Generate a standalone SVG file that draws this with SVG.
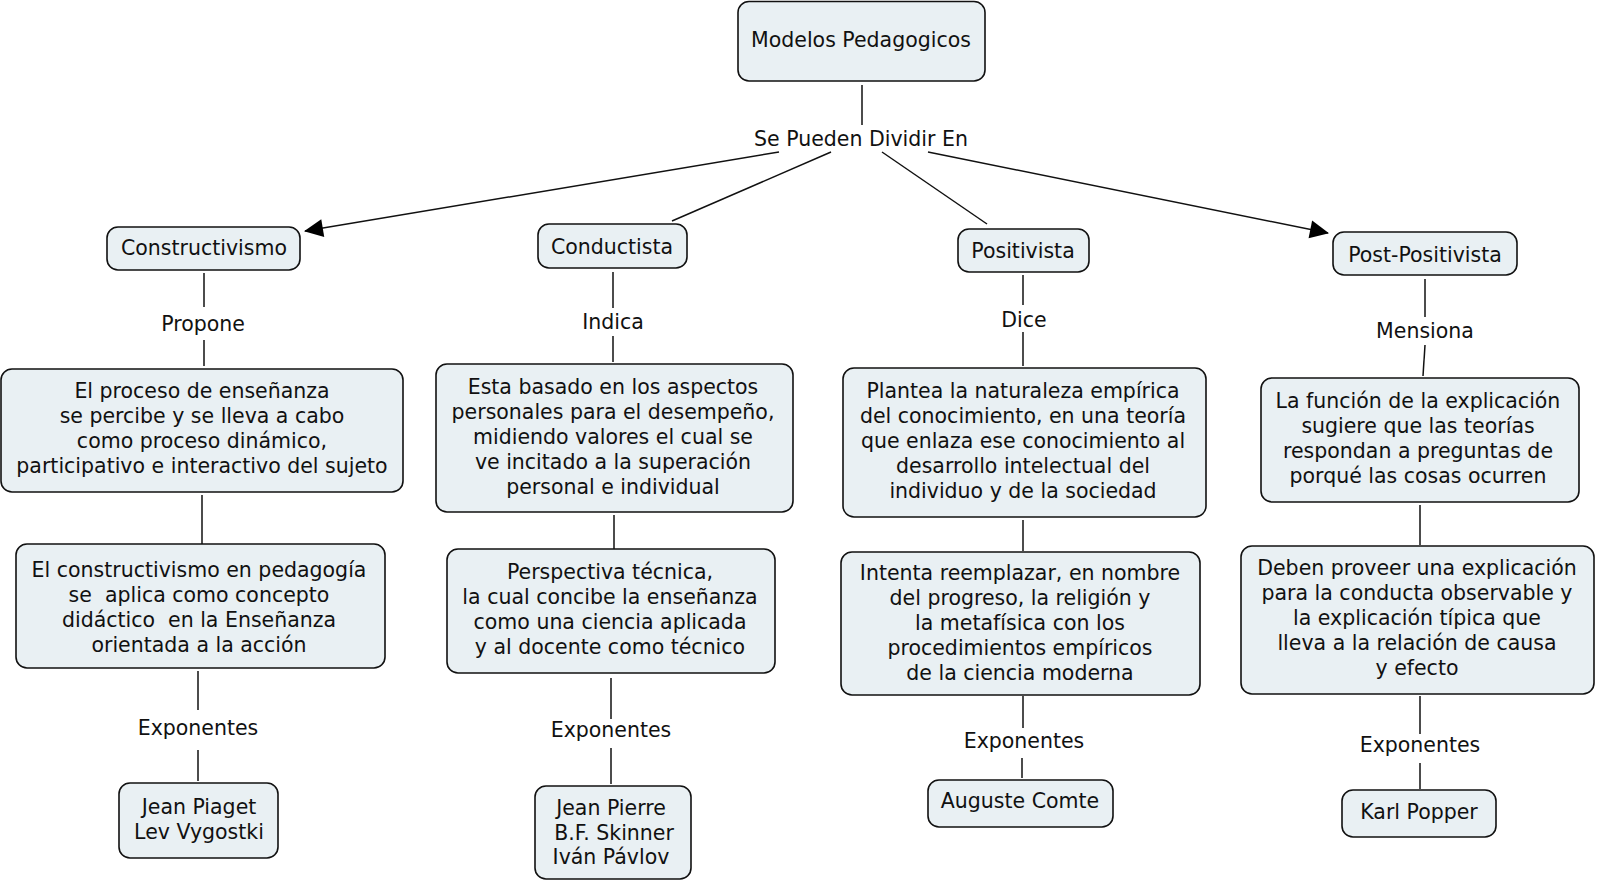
<svg xmlns="http://www.w3.org/2000/svg" width="1600" height="884" viewBox="0 0 1600 884">
<style>
.box{fill:#e9f0f3;stroke:#111;stroke-width:1.6}
.t{font-family:"DejaVu Sans","Liberation Sans",sans-serif;font-size:20.5px;fill:#111;text-anchor:middle}
.c{stroke:#111;stroke-width:1.5;fill:none}
.pre{white-space:pre}
</style>
<defs>
<marker id="arr" markerUnits="userSpaceOnUse" markerWidth="24" markerHeight="24" refX="18" refY="0" viewBox="-2 -12 24 24" orient="auto">
<path d="M0,-9 L19,0 L0,9 Z" fill="#000"/>
</marker>
</defs>
<rect width="1600" height="884" fill="#fff"/>
<g id="connectors">
<line class="c" x1="862" y1="85" x2="862" y2="125"/>
<line class="c" x1="779" y1="152" x2="305" y2="231" marker-end="url(#arr)"/>
<line class="c" x1="831" y1="152" x2="672" y2="221"/>
<line class="c" x1="882" y1="152" x2="987" y2="224"/>
<line class="c" x1="928" y1="152" x2="1328" y2="233" marker-end="url(#arr)"/>
<line class="c" x1="204" y1="273" x2="204" y2="307"/>
<line class="c" x1="204" y1="340" x2="204" y2="366"/>
<line class="c" x1="202" y1="495" x2="202" y2="544"/>
<line class="c" x1="198" y1="671" x2="198" y2="710"/>
<line class="c" x1="198" y1="750" x2="198" y2="781"/>
<line class="c" x1="613" y1="272" x2="613" y2="308"/>
<line class="c" x1="613" y1="336" x2="613" y2="362"/>
<line class="c" x1="614" y1="515" x2="614" y2="549"/>
<line class="c" x1="611" y1="678" x2="611" y2="719"/>
<line class="c" x1="611" y1="748" x2="611" y2="784"/>
<line class="c" x1="1023" y1="275" x2="1023" y2="305"/>
<line class="c" x1="1023" y1="332" x2="1023" y2="366"/>
<line class="c" x1="1023" y1="520" x2="1023" y2="551"/>
<line class="c" x1="1023" y1="696" x2="1023" y2="728"/>
<line class="c" x1="1022" y1="758" x2="1022" y2="778"/>
<line class="c" x1="1425" y1="279" x2="1425" y2="317"/>
<line class="c" x1="1425" y1="345" x2="1423" y2="376"/>
<line class="c" x1="1420" y1="505" x2="1420" y2="545"/>
<line class="c" x1="1420" y1="696" x2="1420" y2="734"/>
<line class="c" x1="1420" y1="763" x2="1420" y2="789"/>
<text class="t" x="861" y="146">Se Pueden Dividir En</text>
<text class="t" x="203" y="331">Propone</text>
<text class="t" x="613" y="329">Indica</text>
<text class="t" x="1024" y="327">Dice</text>
<text class="t" x="1425" y="338">Mensiona</text>
<text class="t" x="198" y="735">Exponentes</text>
<text class="t" x="611" y="737">Exponentes</text>
<text class="t" x="1024" y="748">Exponentes</text>
<text class="t" x="1420" y="752">Exponentes</text>
</g>
<g id="n-modelos">
<rect class="box" x="738" y="1.5" width="247" height="79.5" rx="11"/>
<text class="t" x="861" y="47">Modelos Pedagogicos</text>
</g>
<g id="n-constructivismo">
<rect class="box" x="107" y="227" width="193" height="43" rx="11"/>
<text class="t" x="204" y="255">Constructivismo</text>
</g>
<g id="n-conductista">
<rect class="box" x="538" y="224" width="149" height="44" rx="11"/>
<text class="t" x="612" y="254">Conductista</text>
</g>
<g id="n-positivista">
<rect class="box" x="958" y="229" width="131" height="43" rx="11"/>
<text class="t" x="1023" y="258">Positivista</text>
</g>
<g id="n-postpositivista">
<rect class="box" x="1333" y="232" width="184" height="43" rx="11"/>
<text class="t" x="1425" y="262">Post-Positivista</text>
</g>
<g id="n-proceso">
<rect class="box" x="1" y="369" width="402" height="123" rx="11"/>
<text class="t"><tspan x="202" y="398">El proceso de enseñanza</tspan><tspan x="202" y="423">se percibe y se lleva a cabo</tspan><tspan x="202" y="448">como proceso dinámico,</tspan><tspan x="202" y="473">participativo e interactivo del sujeto</tspan></text>
</g>
<g id="n-constr-pedagogia">
<rect class="box" x="16" y="544" width="369" height="124" rx="11"/>
<text class="t pre"><tspan x="199" y="577">El constructivismo en pedagogía</tspan><tspan x="199" y="602">se  aplica como concepto</tspan><tspan x="199" y="627">didáctico  en la Enseñanza</tspan><tspan x="199" y="652">orientada a la acción</tspan></text>
</g>
<g id="n-piaget">
<rect class="box" x="119" y="783" width="159" height="75" rx="11"/>
<text class="t"><tspan x="199" y="814">Jean Piaget</tspan><tspan x="199" y="839">Lev Vygostki</tspan></text>
</g>
<g id="n-basado">
<rect class="box" x="436" y="364" width="357" height="148" rx="11"/>
<text class="t"><tspan x="613" y="394">Esta basado en los aspectos</tspan><tspan x="613" y="419">personales para el desempeño,</tspan><tspan x="613" y="444">midiendo valores el cual se</tspan><tspan x="613" y="469">ve incitado a la superación</tspan><tspan x="613" y="494">personal e individual</tspan></text>
</g>
<g id="n-perspectiva">
<rect class="box" x="447" y="549" width="328" height="124" rx="11"/>
<text class="t"><tspan x="610" y="579">Perspectiva técnica,</tspan><tspan x="610" y="604">la cual concibe la enseñanza</tspan><tspan x="610" y="629">como una ciencia aplicada</tspan><tspan x="610" y="654">y al docente como técnico</tspan></text>
</g>
<g id="n-skinner">
<rect class="box" x="535" y="786" width="156" height="93" rx="11"/>
<text class="t"><tspan x="611" y="815">Jean Pierre</tspan><tspan x="614" y="840">B.F. Skinner</tspan><tspan x="611" y="864">Iván Pávlov</tspan></text>
</g>
<g id="n-plantea">
<rect class="box" x="843" y="368" width="363" height="149" rx="11"/>
<text class="t"><tspan x="1023" y="398">Plantea la naturaleza empírica</tspan><tspan x="1023" y="423">del conocimiento, en una teoría</tspan><tspan x="1023" y="448">que enlaza ese conocimiento al</tspan><tspan x="1023" y="473">desarrollo intelectual del</tspan><tspan x="1023" y="498">individuo y de la sociedad</tspan></text>
</g>
<g id="n-intenta">
<rect class="box" x="841" y="552" width="359" height="143" rx="11"/>
<text class="t"><tspan x="1020" y="580">Intenta reemplazar, en nombre</tspan><tspan x="1020" y="605">del progreso, la religión y</tspan><tspan x="1020" y="630">la metafísica con los</tspan><tspan x="1020" y="655">procedimientos empíricos</tspan><tspan x="1020" y="680">de la ciencia moderna</tspan></text>
</g>
<g id="n-comte">
<rect class="box" x="928" y="780" width="185" height="47" rx="11"/>
<text class="t" x="1020" y="808">Auguste Comte</text>
</g>
<g id="n-funcion">
<rect class="box" x="1261" y="378" width="318" height="124" rx="11"/>
<text class="t"><tspan x="1418" y="408">La función de la explicación</tspan><tspan x="1418" y="433">sugiere que las teorías</tspan><tspan x="1418" y="458">respondan a preguntas de</tspan><tspan x="1418" y="483">porqué las cosas ocurren</tspan></text>
</g>
<g id="n-deben">
<rect class="box" x="1241" y="546" width="353" height="148" rx="11"/>
<text class="t"><tspan x="1417" y="575">Deben proveer una explicación</tspan><tspan x="1417" y="600">para la conducta observable y</tspan><tspan x="1417" y="625">la explicación típica que</tspan><tspan x="1417" y="650">lleva a la relación de causa</tspan><tspan x="1417" y="675">y efecto</tspan></text>
</g>
<g id="n-popper">
<rect class="box" x="1342" y="790" width="154" height="47" rx="11"/>
<text class="t" x="1419" y="819">Karl Popper</text>
</g>
</svg>
